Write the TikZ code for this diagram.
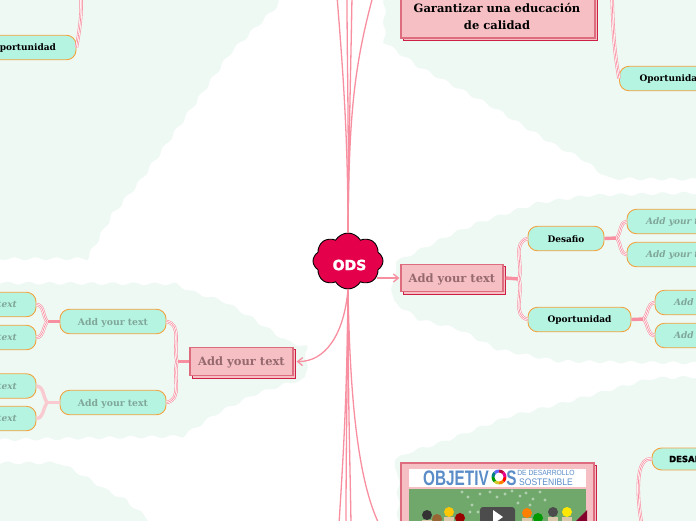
\documentclass[tikz,border=0pt]{standalone}
\usepackage{fontspec}
\setmainfont{DejaVu Serif}
\newfontfamily\logofont[FakeBold=2]{DejaVu Sans}
\newfontfamily\bannerfont{Liberation Sans}
\usetikzlibrary{arrows.meta,shapes.symbols,shadows,decorations.pathmorphing}

\definecolor{zonegreen}{HTML}{EEF9F3}
\definecolor{linkpink}{HTML}{F88FA0}
\definecolor{palepink}{HTML}{F9CBD1}
\definecolor{boxpink}{HTML}{F5BFC3}
\definecolor{boxedge}{HTML}{DC6C7E}
\definecolor{boxshade}{HTML}{CE1F45}
\definecolor{pillgreen}{HTML}{B6F4E2}
\definecolor{pillorange}{HTML}{F2A23F}
\definecolor{odsred}{HTML}{E5004C}
\definecolor{fadedbox}{HTML}{96696F}
\definecolor{fadedpill}{HTML}{7FA698}
\definecolor{bannerblue}{HTML}{5A8CC8}
\definecolor{mapgreen}{HTML}{70A86C}

\tikzset{
  zone/.style={fill=zonegreen,decorate,decoration={snake,segment length=21pt,amplitude=1.4pt}},
  topicbox/.style={draw=boxedge,fill=boxpink,line width=1.2pt,inner sep=0pt,
    copy shadow={draw=boxshade,fill=boxpink,line width=.9pt,shadow xshift=2.5pt,shadow yshift=-2.5pt}},
  topictext/.style={text=fadedbox,yshift=-1pt,font=\bfseries\fontsize{11.5}{14}\selectfont},
  pill/.style={draw=pillorange,fill=pillgreen,line width=.9pt,rounded corners=9.5pt,
    minimum height=24.5pt,inner sep=0pt},
  pilltext/.style={yshift=-1pt,font=\bfseries\fontsize{9}{11}\selectfont},
  fadedtext/.style={text=fadedpill,yshift=-1pt,font=\bfseries\fontsize{9.3}{11}\selectfont},
  leaftext/.style={text=fadedpill,yshift=-1pt,font=\bfseries\itshape\fontsize{9}{11}\selectfont},
  trunk/.style={draw=linkpink,line width=1.3pt},
  tiptrunk/.style={trunk,-{Straight Barb[length=5pt,width=8pt]}},
  stub/.style={draw=linkpink,line width=3.4pt},
  branch/.style={draw=linkpink,line width=3.4pt,postaction={draw=white,line width=2.2pt},
    postaction={draw=linkpink,line width=.7pt}},
  palebranch/.style={draw=palepink,line width=3.4pt},
}

\begin{document}
\begin{tikzpicture}[x=1pt,y=-1pt]
\clip (0,0) rectangle (696,520);
\fill[white] (0,0) rectangle (696,520);

% Zones behind the branches
\fill[zone] (-20,-20) -- (285,-20) -- (265,10) -- (225,50) -- (190,100) -- (155,150) -- (130,185) -- (105,215) -- (78,262) -- (-20,262) -- cycle;
\fill[zone] (395,-20) -- (716,-20) -- (716,180) -- (615,179) -- (590,160) -- (560,145) -- (500,108) -- (430,70) -- (395,45) -- cycle;
\fill[zone] (396,262) -- (440,240) -- (470,227) -- (530,207) -- (590,198) -- (716,195) -- (716,360) -- (560,358) -- (500,346) -- (460,325) -- (420,315) -- (396,298) -- cycle;
\fill[zone] (-20,283) -- (170,284) -- (190,293) -- (220,302) -- (250,320) -- (280,340) -- (298,345) -- (298,385) -- (280,390) -- (250,400) -- (210,420) -- (180,440) -- (-20,444) -- cycle;
\fill[zone] (-20,463) -- (55,463) -- (80,477) -- (100,490) -- (120,500) -- (150,525) -- (-20,525) -- cycle;
\fill[zone] (395,460) -- (410,452) -- (440,443) -- (500,420) -- (560,405) -- (600,394) -- (650,380) -- (716,378) -- (716,540) -- (395,540) -- cycle;

% Centre and the main boxes
\node[cloud,cloud puffs=8,cloud puff arc=120,draw=black,fill=odsred,line width=.9pt,minimum width=70pt,minimum height=56pt,inner sep=0pt] (ods) at (348,261) {};
\node[text=white,font=\logofont\bfseries\fontsize{14}{16}\selectfont] (odsText) at (349.5,265) {ODS};
\node[topicbox,minimum width=102pt,minimum height=27.5pt] (boxRight) at (452,278) {};
\node[topictext] (boxRightText) at (452,278) {Add your text};
\node[topicbox,minimum width=103pt,minimum height=28.5pt] (boxLeft) at (241.5,361.5) {};
\node[topictext] (boxLeftText) at (241.5,361.5) {Add your text};
\node[topicbox,minimum width=194pt,minimum height=68pt] (boxTop) at (498,4) {};
\node[align=center,font=\bfseries\fontsize{11.5}{17}\selectfont] (boxTopText) at (497,16.5) {Garantizar una educación\\de calidad};
\node[topicbox,minimum width=193pt,minimum height=100pt] (boxImage) at (497.5,513) {};

% Picture in the lower box
\fill[white] (409,469) rectangle (586,487);
\fill[mapgreen] (409,489) rectangle (586,525);
\foreach \sx/\sy in {462/492,468/497,472/505,480/494,490/492,497/497,505/494,512/491,520/496,526/493,533/499,540/492,530/505,545/500,518/503,478/512,470/512}
  \fill[white,opacity=.45] (\sx,\sy) circle (1.6);
\fill[black!70,rounded corners=3pt] (480,507) rectangle (515,525);
\fill[white] (493,510) -- (503,517) -- (493,524) -- cycle;
\fill[purple!70!black] (587,510) -- (587,522) -- (575,522) -- cycle;
% People: x, y, head colour
\foreach \px/\py/\pc in {427/515/black!80,437/519/brown!80!black,449/512/yellow!60!orange,460/518/red!60!black,527/513/orange,538/518/green!60!black,553/512/black!70,567/512/yellow!90!orange} {
  \fill[\pc] (\px,\py) circle (5);
  \fill[brown!40,opacity=.9] (\px-5,\py+5) rectangle (\px+5,\py+12);
}
\node[inner sep=0pt,text=bannerblue,font=\bannerfont\bfseries\fontsize{21}{21}\selectfont] (bannerBig) at (456,478) {\scalebox{.73}[1]{OBJETIV}};
\node[inner sep=0pt,text=bannerblue,font=\bannerfont\bfseries\fontsize{21}{21}\selectfont] (bannerEnd) at (511.5,478) {\scalebox{.73}[1]{S}};
\node[inner sep=0pt,text=bannerblue,font=\bannerfont\fontsize{7.5}{8}\selectfont] (bannerUp) at (546,472.5) {\scalebox{.9}[1]{DE DESARROLLO}};
\node[inner sep=0pt,text=bannerblue,font=\bannerfont\fontsize{9.5}{10}\selectfont] (bannerLow) at (546,482) {\scalebox{.9}[1]{SOSTENIBLE}};
\foreach \ca/\cc in {0/red,45/orange,90/yellow!80!black,135/green!60!black,180/teal,225/blue!60,270/purple,315/magenta}
  \draw[\cc,line width=3pt] (499,477) ++(\ca:6) arc (\ca:\ca+46:6);

% Right side
\node[pill,minimum width=76pt] (desafio) at (566,238.5) {};
\node[pilltext] (desafioText) at (566,238.5) {Desafio};
\node[pill,minimum width=103pt] (oportR) at (579.5,319.5) {};
\node[pilltext] (oportRText) at (579.5,319.5) {Oportunidad};
\node[pill,minimum width=106pt] (leafA) at (680,221.5) {};
\node[leaftext] (leafAText) at (680,221.5) {Add your text};
\node[pill,minimum width=106pt] (leafB) at (680,254.5) {};
\node[leaftext] (leafBText) at (680,254.5) {Add your text};
\node[pill,minimum width=106pt] (leafC) at (708,302.5) {};
\node[leaftext] (leafCText) at (708,302.5) {Add your text};
\node[pill,minimum width=106pt] (leafD) at (708,335.5) {};
\node[leaftext] (leafDText) at (708,335.5) {Add your text};

% Left side
\node[pill,minimum width=106pt] (midA) at (113,321.5) {};
\node[fadedtext] (midAText) at (113,321.5) {Add your text};
\node[pill,minimum width=106pt] (midB) at (113,402.5) {};
\node[fadedtext] (midBText) at (113,402.5) {Add your text};
\node[pill,minimum width=106pt] (leafE) at (-17,304.5) {};
\node[leaftext] (leafEText) at (-17,304.5) {Add your text};
\node[pill,minimum width=106pt] (leafF) at (-17,337.5) {};
\node[leaftext] (leafFText) at (-17,337.5) {Add your text};
\node[pill,minimum width=106pt] (leafG) at (-17,386) {};
\node[leaftext] (leafGText) at (-17,386) {Add your text};
\node[pill,minimum width=106pt] (leafH) at (-17,418.5) {};
\node[leaftext] (leafHText) at (-17,418.5) {Add your text};

% Upper corners and lower right
\node[pill,minimum width=104pt] (oportL) at (24,47.5) {};
\node[pilltext] (oportLText) at (24,47.5) {Oportunidad};
\node[pill,minimum width=104pt] (oportT) at (671.5,78.5) {};
\node[pilltext] (oportTText) at (671.5,78.5) {Oportunidad};
\node[pill,minimum width=82pt,minimum height=22pt] (desafioB) at (693,459) {};
\node[font=\logofont\bfseries\fontsize{8.5}{10}\selectfont] (desafioBText) at (693,459) {DESAFIOS};

% Free ends outside the page
\coordinate (upA) at (337,-4);
\coordinate (upB) at (347,-4);
\coordinate (upC) at (352,-4);
\coordinate (upD) at (373,-4);
\coordinate (downA) at (339,524);
\coordinate (downB) at (346,524);
\coordinate (downC) at (351,524);
\coordinate (downD) at (379,524);
\coordinate (upLeft) at (81,-4);
\coordinate (upRight) at (612,-4);
\coordinate (downRight) at (643,524);

% Main connectors
\draw[trunk] (ods.north) .. controls (348,130) and (342,60) .. (upA);
\draw[trunk] (ods.north) .. controls (349,130) and (347,60) .. (upB);
\draw[trunk] (ods.north) .. controls (349,130) and (351,60) .. (upC);
\draw[trunk] (ods.north) .. controls (349,120) and (353,70) .. (upD);
\draw[trunk] (ods.south) .. controls (347,400) and (343,460) .. (downA);
\draw[trunk] (ods.south) .. controls (347,400) and (346,460) .. (downB);
\draw[trunk] (ods.south) .. controls (348,400) and (350,460) .. (downC);
\draw[trunk] (ods.south) .. controls (350,400) and (358,480) .. (downD);
\draw[tiptrunk] (ods.south) .. controls (344,335) and (325,362) .. ([xshift=3pt]boxLeft.east);
\draw[tiptrunk] ([xshift=-6pt]boxRight.west -| ods.east) -- ([xshift=-1pt]boxRight.west);

% Right branches
\coordinate (jointR) at (519,279);
\draw[stub] ([xshift=2pt]boxRight.east) -- (jointR);
\draw[branch] (jointR) to[out=75,in=195] (desafio.west);
\draw[branch] (jointR) to[out=-75,in=165] (oportR.west);
\coordinate (jointA) at (617,238);
\draw[stub] (desafio.east) -- (jointA);
\draw[branch] (jointA) to[out=55,in=190] (leafA.west);
\draw[branch] (jointA) to[out=-55,in=170] (leafB.west);
\coordinate (jointB) at (644,319);
\draw[stub] (oportR.east) -- (jointB);
\draw[branch] (jointB) to[out=55,in=190] (leafC.west);
\draw[branch] (jointB) to[out=-55,in=170] (leafD.west);

% Left branches
\coordinate (jointL) at (177,361.5);
\draw[stub] (boxLeft.west) -- (jointL);
\draw[branch] (jointL) to[out=105,in=-10] (midA.east);
\draw[branch] (jointL) to[out=-105,in=10] (midB.east);
\coordinate (jointC) at (47,321.5);
\draw[stub] (midA.west) -- (jointC);
\draw[branch] (jointC) to[out=125,in=-5] (leafE.east);
\draw[branch] (jointC) to[out=-125,in=5] (leafF.east);
\coordinate (jointD) at (47,402.5);
\draw[palebranch] (midB.west) -- (jointD);
\draw[palebranch] (jointD) to[out=125,in=-5] (leafG.east);
\draw[palebranch] (jointD) to[out=-125,in=5] (leafH.east);

% Branches that leave the page
\draw[branch] (oportL.east) to[out=80,in=-88] (upLeft);
\draw[branch] (oportT.west) to[out=100,in=-88] (upRight);
\draw[branch] (desafioB.west) to[out=170,in=-85] (downRight);
\end{tikzpicture}
\end{document}
